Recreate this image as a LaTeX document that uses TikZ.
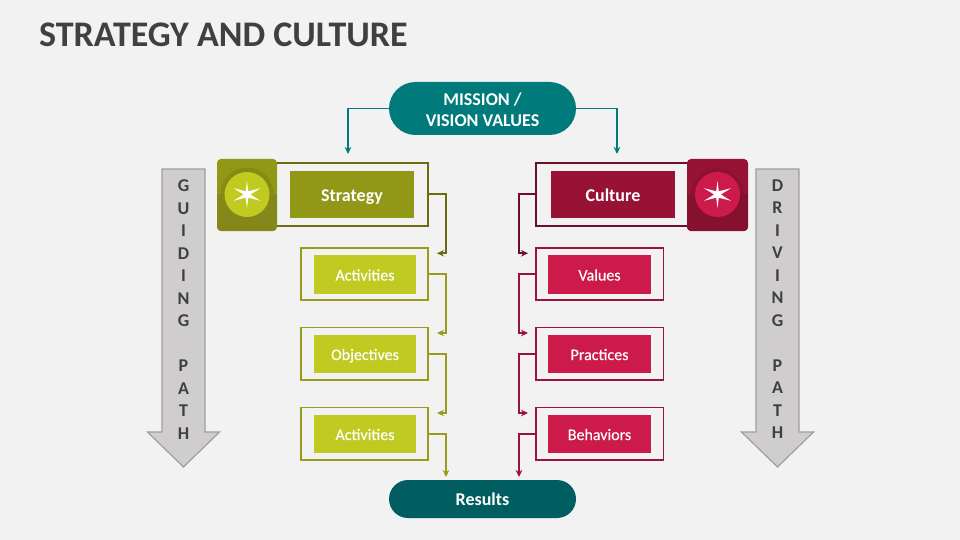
\documentclass[tikz,border=0pt]{standalone}
\usepackage{fontspec}
\setmainfont{Carlito}
\newfontface\itemfont[FakeBold=0.35]{Carlito}
\usetikzlibrary{arrows.meta,shapes.misc,calc}
\definecolor{bgc}{HTML}{F2F2F2}
\definecolor{tealA}{HTML}{007A7A}
\definecolor{tealB}{HTML}{005E60}
\definecolor{oliveD}{HTML}{6B6B10}
\definecolor{oliveM}{HTML}{919818}
\definecolor{oliveL}{HTML}{C1CA20}
\definecolor{oliveS}{HTML}{84881A}
\definecolor{oliveR}{HTML}{979C1A}
\definecolor{redD}{HTML}{6E0F2C}
\definecolor{redM}{HTML}{981236}
\definecolor{redL}{HTML}{CC1A4B}
\definecolor{redS}{HTML}{85112F}
\definecolor{redR}{HTML}{9B1339}
\definecolor{greyF}{HTML}{CFCDCE}
\definecolor{greyE}{HTML}{A09FA0}
\definecolor{titlec}{HTML}{404040}
\newcommand{\starshape}[2]{%
  \fill[white] ($(#1,#2)+(0,-13.5)$) -- ($(#1,#2)+(1.3,-3.2)$) -- ($(#1,#2)+(13.5,-6.3)$) -- ($(#1,#2)+(3.4,0)$) -- ($(#1,#2)+(13.5,6.3)$) -- ($(#1,#2)+(1.3,3.2)$) -- ($(#1,#2)+(0,13.5)$) -- ($(#1,#2)+(-1.3,3.2)$) -- ($(#1,#2)+(-13.5,6.3)$) -- ($(#1,#2)+(-3.4,0)$) -- ($(#1,#2)+(-13.5,-6.3)$) -- ($(#1,#2)+(-1.3,-3.2)$) -- cycle;}
\tikzset{
  x=1pt,y=-1pt,
  pill/.style={rounded rectangle,inner sep=0pt,outer sep=0pt,text=white,font=\fontsize{18}{21}\selectfont\bfseries,align=center},
  framebox/.style={draw,line width=1.8pt,inner sep=0pt,outer sep=0pt,anchor=north west},
  labelbox/.style={inner sep=0pt,outer sep=0pt,text=white,anchor=center},
  headbox/.style={labelbox,font=\fontsize{18}{20}\selectfont\bfseries,text height=14pt,text depth=0pt},
  itembox/.style={labelbox,font=\fontsize{16}{19}\itemfont,text height=12pt,text depth=0pt},
  link/.style={line width=1.8pt,-{Stealth[length=7pt,width=6.5pt]}},
  bigarrow/.style={fill=greyF,draw=greyE,line width=1.2pt},
  pathtext/.style={align=center,text=titlec,font=\fontsize{18}{22.5}\selectfont\bfseries,inner sep=0pt},
  iconbox/.style={rounded corners=4pt}
}
\begin{document}
\begin{tikzpicture}
\useasboundingbox[fill=bgc] (0,0) rectangle (960,540);
\node[anchor=west,inner sep=0pt,text=titlec,font=\fontsize{36}{40}\selectfont\bfseries] (title) at (39,35) {STRATEGY AND CULTURE};

% grey arrows
\draw[bigarrow,line join=miter] (162,169) -- (205,169) -- (205,432) -- (219.5,432) -- (183.5,467) -- (147.5,432) -- (162,432) -- cycle;
\draw[bigarrow,line join=miter] (756,169) -- (799,169) -- (799,432) -- (813.5,432) -- (777.5,467) -- (741.5,432) -- (756,432) -- cycle;
\node[pathtext,anchor=north] (guiding) at (183.5,179.5) {G\\U\\I\\D\\I\\N\\G\\[22.5pt]P\\A\\T\\H};
\node[pathtext,anchor=north] (driving) at (777.5,179.5) {D\\R\\I\\V\\I\\N\\G\\[22.5pt]P\\A\\T\\H};

% pills
\node[pill,fill=tealA,minimum width=187pt,minimum height=53pt] (mission) at (482.5,108.5) {\rule{0pt}{15pt}MISSION /\\VISION VALUES};
\node[pill,fill=tealB,minimum width=187pt,minimum height=38pt,text height=13pt,text depth=0pt] (results) at (482.5,499) {Results};

% left frames
\node[framebox,draw=oliveD,minimum width=160pt,minimum height=63pt] (sframe) at (268,162.7) {};
\node[framebox,draw=oliveR,minimum width=127pt,minimum height=52.5pt] (aframe) at (301,247.7) {};
\node[framebox,draw=oliveR,minimum width=127pt,minimum height=52.5pt] (oframe) at (301,327.5) {};
\node[framebox,draw=oliveR,minimum width=127pt,minimum height=52.5pt] (bframe) at (301,407.5) {};
\node[headbox,fill=oliveM,minimum width=124pt,minimum height=47pt] (strategy) at (352,194.5) {Strategy};
\node[itembox,fill=oliveL,minimum width=102pt,minimum height=39pt] (activities) at (365,274.5) {Activities};
\node[itembox,fill=oliveL,minimum width=102pt,minimum height=38pt] (objectives) at (365,354) {Objectives};
\node[itembox,fill=oliveL,minimum width=102pt,minimum height=38pt] (activities2) at (365,434) {Activities};

% right frames
\node[framebox,draw=redD,minimum width=160pt,minimum height=63pt] (cframe) at (536,162.7) {};
\node[framebox,draw=redR,minimum width=127.5pt,minimum height=52.5pt] (vframe) at (536,247.7) {};
\node[framebox,draw=redR,minimum width=127.5pt,minimum height=52.5pt] (pframe) at (536,327.5) {};
\node[framebox,draw=redR,minimum width=127.5pt,minimum height=52.5pt] (hframe) at (536,407.5) {};
\node[headbox,fill=redM,minimum width=124pt,minimum height=47pt] (culture) at (613,194.5) {Culture};
\node[itembox,fill=redL,minimum width=103pt,minimum height=39pt] (values) at (599.5,274.5) {Values};
\node[itembox,fill=redL,minimum width=103pt,minimum height=38pt] (practices) at (599.5,354) {Practices};
\node[itembox,fill=redL,minimum width=103pt,minimum height=38pt] (behaviors) at (599.5,434) {Behaviors};

% icons
\fill[oliveM,iconbox] (217,159) rectangle (277,231);
\begin{scope}
\clip[iconbox] (217,159) rectangle (277,231);
\fill[oliveS] (217,194) rectangle (277,231);
\end{scope}
\fill[oliveM!92!black] (220.5,194) arc[start angle=180,end angle=360,radius=26.5] -- cycle;
\fill[oliveL] (247,194.5) circle[radius=22.5];
\starshape{247}{194.5}
\fill[redM,iconbox] (687,159) rectangle (748,231);
\begin{scope}
\clip[iconbox] (687,159) rectangle (748,231);
\fill[redS] (687,194) rectangle (748,231);
\end{scope}
\fill[redM!92!black] (691,194) arc[start angle=180,end angle=360,radius=26.5] -- cycle;
\fill[redL] (717.5,194.5) circle[radius=22.5];
\starshape{717.5}{194.5}

% connector targets
\coordinate (tl) at (348,154);
\coordinate (tr) at (617,154);
\coordinate (t1) at (437,253.3);
\coordinate (t2) at (437,333);
\coordinate (t3) at (437,413);
\coordinate (t4) at (446,477);
\coordinate (u1) at (528,253.3);
\coordinate (u2) at (528,333);
\coordinate (u3) at (528,413);
\coordinate (u4) at (519,477);

\draw[link,draw=tealA] (mission.west) -| (tl);
\draw[link,draw=tealA] (mission.east) -| (tr);
\draw[link,draw=oliveD] (sframe.east) -- ++(18,0) |- (t1);
\draw[link,draw=oliveR] (aframe.east) -- ++(18,0) |- (t2);
\draw[link,draw=oliveR] (oframe.east) -- ++(18,0) |- (t3);
\draw[link,draw=oliveR] (bframe.east) -| (t4);
\draw[link,draw=redD] (cframe.west) -- ++(-17,0) |- (u1);
\draw[link,draw=redR] (vframe.west) -- ++(-17,0) |- (u2);
\draw[link,draw=redR] (pframe.west) -- ++(-17,0) |- (u3);
\draw[link,draw=redR] (hframe.west) -| (u4);
\end{tikzpicture}
\end{document}
